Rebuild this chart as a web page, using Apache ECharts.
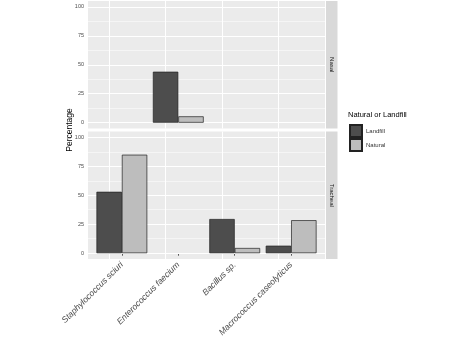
<!DOCTYPE html>
<html><head><meta charset="utf-8">
<script src="https://cdn.jsdelivr.net/npm/echarts@6/dist/echarts.min.js"></script>
<style>html,body{margin:0;padding:0;background:#fff}#c{width:474px;height:342px}</style>
</head><body><div id="c"></div>
<script>
const categories = ['Staphylococcus sciuri','Enterococcus faecium','Bacillus sp.','Macrococcus caseolyticus'];
const panels = ['Nasal','Tracheal'];
const groups = ['Landfill','Natural'];
const nasalLandfill = [null, 44, null, null];
const nasalNatural = [null, 5.5, null, null];
const trachealLandfill = [53, null, 29.5, 6.5];
const trachealNatural = [85, null, 4.5, 28.5];
const yTicks = [0, 25, 50, 75, 100];
const yMinor = [12.5, 37.5, 62.5, 87.5];

const values = [[nasalLandfill, nasalNatural], [trachealLandfill, trachealNatural]];
const fills = ['#4d4d4d', '#bdbdbd'];
const PL = 88, PW = 237, PH = 127.5, TOPS = [1, 131.5];
const EXP = 0.6, YMIN = -5, YMAX = 105;
const barW = PW / (categories.length - 1 + 2 * EXP) * 0.45;

const chart = echarts.init(document.getElementById('c'), null, {renderer: 'canvas'});

const grids = TOPS.map(t => ({left: PL, top: t, width: PW, height: PH, show: true, backgroundColor: '#ebebeb', borderWidth: 0, z: 0}));
const xAxes = TOPS.map((t, p) => ({
  type: 'value', gridIndex: p, min: -EXP, max: categories.length - 1 + EXP,
  axisLine: {show: false}, splitLine: {show: false},
  axisTick: {show: p === 1, customValues: categories.map((c, i) => i), length: 2.5, lineStyle: {color: '#333', width: 0.8}},
  axisLabel: {show: p === 1, customValues: categories.map((c, i) => i), formatter: v => categories[Math.round(v)] || '',
    rotate: 45, fontSize: 8.6, fontStyle: 'italic', color: '#4d4d4d', fontFamily: 'Liberation Sans', margin: 4.5}
}));
const yAxes = TOPS.map((t, p) => ({
  type: 'value', gridIndex: p, min: YMIN, max: YMAX,
  axisLine: {show: false}, splitLine: {show: false},
  axisTick: {show: true, customValues: yTicks, length: 2.5, lineStyle: {color: '#333', width: 0.8}},
  axisLabel: {customValues: yTicks, fontSize: 5.5, color: '#4d4d4d', fontFamily: 'Liberation Sans', margin: 4}
}));

const gridLines = [
  ...yTicks.map(v => ({yAxis: v, lineStyle: {width: 1}})),
  ...yMinor.map(v => ({yAxis: v, lineStyle: {width: 0.5}})),
  ...categories.map((c, i) => ({xAxis: i, lineStyle: {width: 1}}))
];

const series = [];
panels.forEach((pn, p) => {
  groups.forEach((g, k) => {
    const s = {
      type: 'bar', name: g, xAxisIndex: p, yAxisIndex: p,
      data: values[p][k].map((v, i) => v == null ? null : [i, v]).filter(d => d),
      barWidth: barW, barGap: '0%', z: 2,
      itemStyle: {color: fills[k], borderColor: '#222', borderWidth: 0.7},
      emphasis: {disabled: true}
    };
    if (k === 0) {
      s.markLine = {silent: true, symbol: 'none', z: 1, label: {show: false},
        lineStyle: {color: '#ffffff', type: 'solid'}, data: gridLines, animation: false};
    }
    series.push(s);
  });
});

const stripGraphics = [];
panels.forEach((pn, p) => {
  stripGraphics.push({type: 'rect', left: PL + PW + 1, top: TOPS[p], shape: {width: 11.5, height: PH}, style: {fill: '#d9d9d9'}, silent: true});
  stripGraphics.push({type: 'text', x: PL + PW + 1 + 5.75, y: TOPS[p] + PH / 2, rotation: -Math.PI / 2,
    style: {text: pn, fontSize: 6, fill: '#1a1a1a', fontFamily: 'Liberation Sans', align: 'center', verticalAlign: 'middle'}, silent: true});
});
stripGraphics.push({type: 'text', x: 70, y: (TOPS[0] + TOPS[1] + PH) / 2, rotation: Math.PI / 2,
  style: {text: 'Percentage', fontSize: 8.5, fill: '#000', fontFamily: 'Liberation Sans', align: 'center', verticalAlign: 'middle'}, silent: true});

chart.setOption({
  animation: false,
  backgroundColor: '#ffffff',
  title: {text: 'Natural or Landfill', left: 348, top: 111, padding: 0,
    textStyle: {fontSize: 7.5, fontWeight: 'normal', color: '#000', fontFamily: 'Liberation Sans'}},
  legend: {left: 349, top: 124, orient: 'vertical', itemWidth: 12, itemHeight: 12, itemGap: 0, padding: 0,
    icon: 'rect', data: groups, selectedMode: false,
    textStyle: {fontSize: 6, color: '#333', fontFamily: 'Liberation Sans', padding: [0, 0, 0, -1]}},
  grid: grids, xAxis: xAxes, yAxis: yAxes, series: series,
  graphic: stripGraphics
});
</script></body></html>
